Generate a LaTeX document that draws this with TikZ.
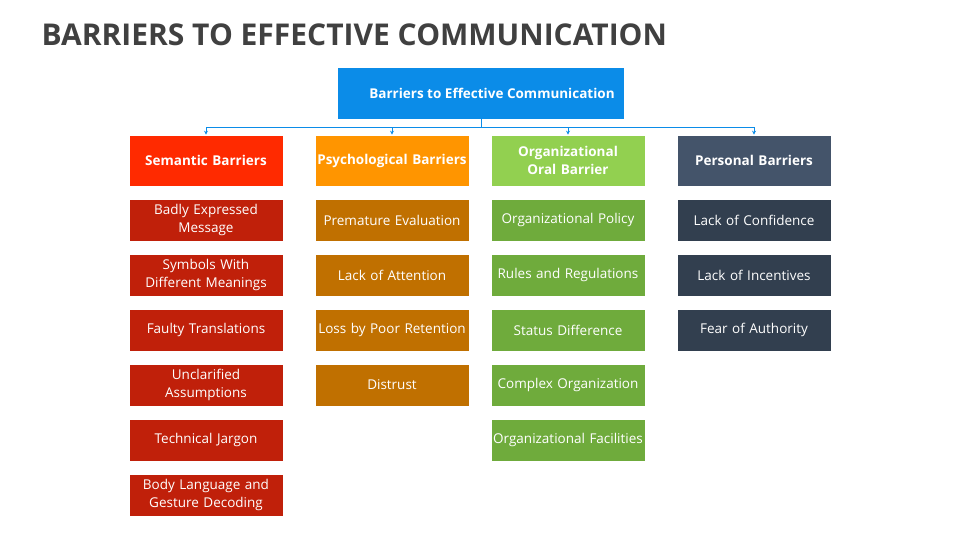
\documentclass[tikz,border=0pt]{standalone}
\usepackage{fontspec}
\setmainfont{Open Sans}
\usetikzlibrary{arrows.meta}
\definecolor{tblue}{HTML}{0B8CE8}
\definecolor{redH}{HTML}{FF2A00}\definecolor{redI}{HTML}{C0200A}
\definecolor{orH}{HTML}{FF9500}\definecolor{orI}{HTML}{C07000}
\definecolor{grH}{HTML}{92D050}\definecolor{grI}{HTML}{6FAB3C}
\definecolor{slH}{HTML}{44546A}\definecolor{slI}{HTML}{323F4F}
\definecolor{ttl}{HTML}{404040}
\begin{document}
\begin{tikzpicture}[x=1pt,y=-1pt,
 box/.style={draw=white,line width=0.6pt,minimum width=154pt,text width=150pt,align=center,text=white,inner sep=1pt,font=\fontsize{13.5}{18}\selectfont},
 head/.style={box,minimum height=51pt,font=\fontsize{13.5}{18}\selectfont\bfseries},
 item/.style={box,minimum height=42pt},
 conn/.style={draw=tblue,line width=0.8pt,-{Stealth[length=4pt,width=4pt]}}]
\useasboundingbox (0,0) rectangle (960,540);
\node[anchor=west,text=ttl,font=\fontsize{30}{34}\selectfont\bfseries] (title) at (38,35) {BARRIERS TO EFFECTIVE COMMUNICATION};
\node[fill=tblue,minimum width=286pt,minimum height=51pt,text=white,font=\fontsize{13.5}{18}\selectfont\bfseries,inner sep=0pt] (top) at (481,93.5) {\hspace*{22pt}Barriers to Effective Communication};
\coordinate (j) at (481,127);
\foreach \x/\n/\c/\t in {206/a/redH/Semantic Barriers,392/b/orH/Psychological Barriers,568/c/grH/{Organizational\\Oral Barrier},754/d/slH/Personal Barriers}{
 \node[head,fill=\c] (h\n) at (\x,160.5) {\t};
}
\draw[tblue,line width=0.8pt] (top.south) -- (j);
\foreach \n in {a,b,c,d}{\draw[conn] (j) -| (h\n.north);}
\foreach \i/\t in {1/{Badly Expressed\\Message},2/{Symbols With\\Different Meanings},3/Faulty Translations,4/{Unclarified\\Assumptions},5/Technical Jargon,6/{Body Language and\\Gesture Decoding}}{
 \node[item,fill=redI] (a\i) at (206,{220+55*(\i-1)}) {\t};}
\foreach \i/\t in {1/Premature Evaluation,2/Lack of Attention,3/Loss by Poor Retention,4/Distrust}{
 \node[item,fill=orI] (b\i) at (392,{220+55*(\i-1)}) {\t};}
\foreach \i/\t in {1/Organizational Policy,2/Rules and Regulations,3/Status Difference,4/Complex Organization,5/Organizational Facilities}{
 \node[item,fill=grI] (c\i) at (568,{220+55*(\i-1)}) {\t};}
\foreach \i/\t in {1/Lack of Confidence,2/Lack of Incentives,3/Fear of Authority}{
 \node[item,fill=slI] (d\i) at (754,{220+55*(\i-1)}) {\t};}
\end{tikzpicture}
\end{document}
